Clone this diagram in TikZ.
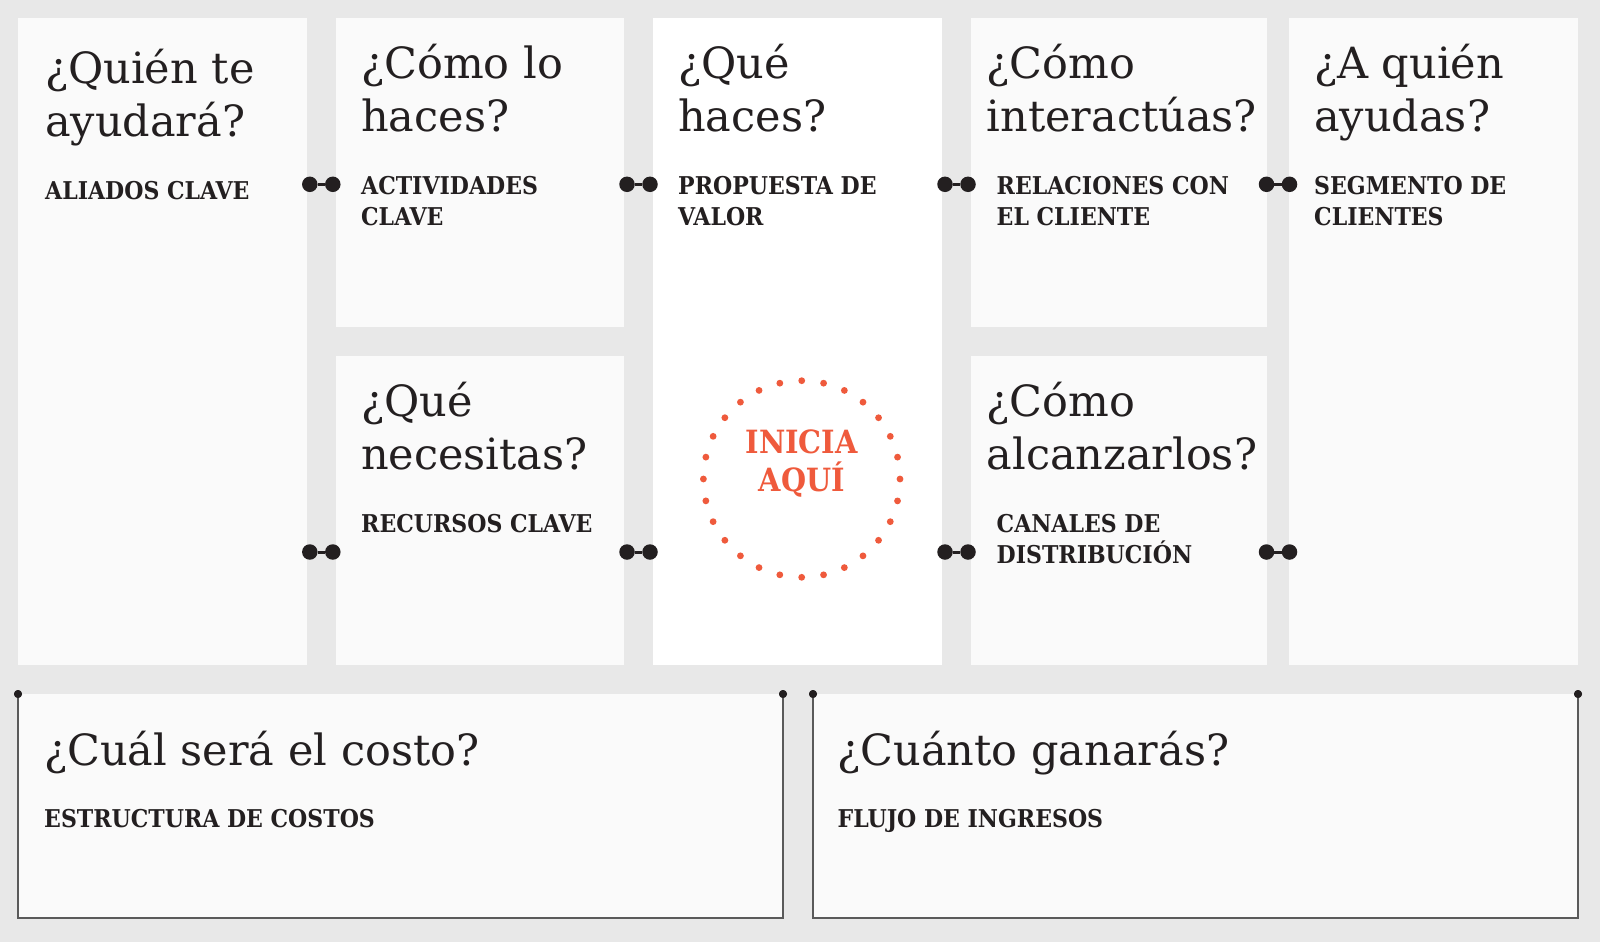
\documentclass[tikz,border=0pt]{standalone}
\usepackage{fontspec}
\setmainfont{DejaVu Serif}
\newfontfamily\condfont{DejaVu Serif Condensed}
\definecolor{bg}{HTML}{E8E8E8}
\definecolor{boxfill}{HTML}{FAFAFA}
\definecolor{ink}{HTML}{231F20}
\definecolor{edge}{HTML}{5A5A5A}
\definecolor{accent}{RGB}{239,90,60}
\begin{document}
\begin{tikzpicture}[x=1pt,y=-1pt,
  panel/.style={fill=boxfill,draw=none},
  title/.style={anchor=base west,inner sep=0,text=ink,font=\fontsize{43}{50}\selectfont},
  label/.style={anchor=base west,inner sep=0,text=ink,font=\condfont\bfseries\fontsize{24.5}{30}\selectfont},
  knob/.style={circle,fill=ink,inner sep=0,minimum size=15.5pt},
  bar/.style={draw=ink,line width=3pt},
  cornerdot/.style={circle,fill=ink,inner sep=0,minimum size=8pt},
  rim/.style={draw=edge,line width=1.3pt},
  starttext/.style={anchor=base,inner sep=0,text=accent,font=\condfont\bfseries\fontsize{32}{40}\selectfont}]
\useasboundingbox (0,0) rectangle (1600,942);
\fill[bg] (0,0) rectangle (1600,942);
% panels
\fill[panel] (18,18) rectangle (306.7,664.7);
\fill[panel] (336,18) rectangle (624,327);
\fill[panel] (336,356) rectangle (624,664.7);
\fill[white] (653,18) rectangle (942,664.7);
\fill[panel] (971,18) rectangle (1267,327);
\fill[panel] (971,356) rectangle (1267,664.7);
\fill[panel] (1289,18) rectangle (1578,664.7);
\fill[panel] (18,694) rectangle (783,918);
\fill[panel] (813,694) rectangle (1578,918);
% bottom panel rims
\node[cornerdot] (bl1) at (18,694) {};
\node[cornerdot] (bl2) at (783,694) {};
\node[cornerdot] (br1) at (813,694) {};
\node[cornerdot] (br2) at (1578,694) {};
\coordinate (bl3) at (18,918);
\coordinate (bl4) at (783,918);
\coordinate (br3) at (813,918);
\coordinate (br4) at (1578,918);
\draw[rim] (bl1.center) -- (bl3) -- (bl4) -- (bl2.center);
\draw[rim] (br1.center) -- (br3) -- (br4) -- (br2.center);
\node[cornerdot] at (bl1) {};
\node[cornerdot] at (bl2) {};
\node[cornerdot] at (br1) {};
\node[cornerdot] at (br2) {};
% dumbbell connectors
\foreach \n/\cx/\cy in {a/321.3/184.3, b/638.5/184.3, c/956.5/184.3, d/1278/184.3,
                        e/321.3/552, f/638.5/552, g/956.5/552, h/1278/552}{
  \node[knob] (\n1) at (\cx-11.5,\cy) {};
  \node[knob] (\n2) at (\cx+11.5,\cy) {};
  \draw[bar] (\n1) -- (\n2);
}
% column 1
\node[title] (q1a) at (45,83.3) {¿Quién te};
\node[title] (q1b) at (45,136.7) {ayudará?};
\node[label] (l1a) at (45,199.3) {ALIADOS CLAVE};
% column 2 top
\node[title] (q2a) at (361,78) {¿Cómo lo};
\node[title] (q2b) at (361,131.4) {haces?};
\node[label] (l2a) at (361,194) {ACTIVIDADES};
\node[label] (l2b) at (361,225.6) {CLAVE};
% column 2 bottom
\node[title] (q3a) at (361,416) {¿Qué};
\node[title] (q3b) at (361,469.4) {necesitas?};
\node[label] (l3a) at (361,532) {RECURSOS CLAVE};
% column 3
\node[title] (q4a) at (678,78) {¿Qué};
\node[title] (q4b) at (678,131.4) {haces?};
\node[label] (l4a) at (678,194) {PROPUESTA DE};
\node[label] (l4b) at (678,225.6) {VALOR};
% column 4 top
\node[title] (q5a) at (986.5,78) {¿Cómo};
\node[title] (q5b) at (986.5,131.4) {interactúas?};
\node[label] (l5a) at (996.5,194) {RELACIONES CON};
\node[label] (l5b) at (996.5,225.6) {EL CLIENTE};
% column 4 bottom
\node[title] (q6a) at (986.5,416) {¿Cómo};
\node[title] (q6b) at (986.5,469.4) {alcanzarlos?};
\node[label] (l6a) at (996.5,532) {CANALES DE};
\node[label] (l6b) at (996.5,563.6) {DISTRIBUCIÓN};
% column 5
\node[title] (q7a) at (1314,78) {¿A quién};
\node[title] (q7b) at (1314,131.4) {ayudas?};
\node[label] (l7a) at (1314,194) {SEGMENTO DE};
\node[label] (l7b) at (1314,225.6) {CLIENTES};
% bottom panels
\node[title] (q8) at (44,765.5) {¿Cuál será el costo?};
\node[label] (l8) at (44,827.5) {ESTRUCTURA DE COSTOS};
\node[title] (q9) at (837.5,765.5) {¿Cuánto ganarás?};
\node[label] (l9) at (837.5,827.5) {FLUJO DE INGRESOS};
% start here
\node[circle,draw=accent,minimum size=196.6pt,inner sep=0,line width=6.8pt,
      dash pattern=on 0pt off 22.0585pt,line cap=round] (start) at (801.7,479) {};
\node[starttext] (s1) at (801.7,453.3) {INICIA};
\node[starttext] (s2) at (801.7,491.7) {AQUÍ};
\end{tikzpicture}
\end{document}
